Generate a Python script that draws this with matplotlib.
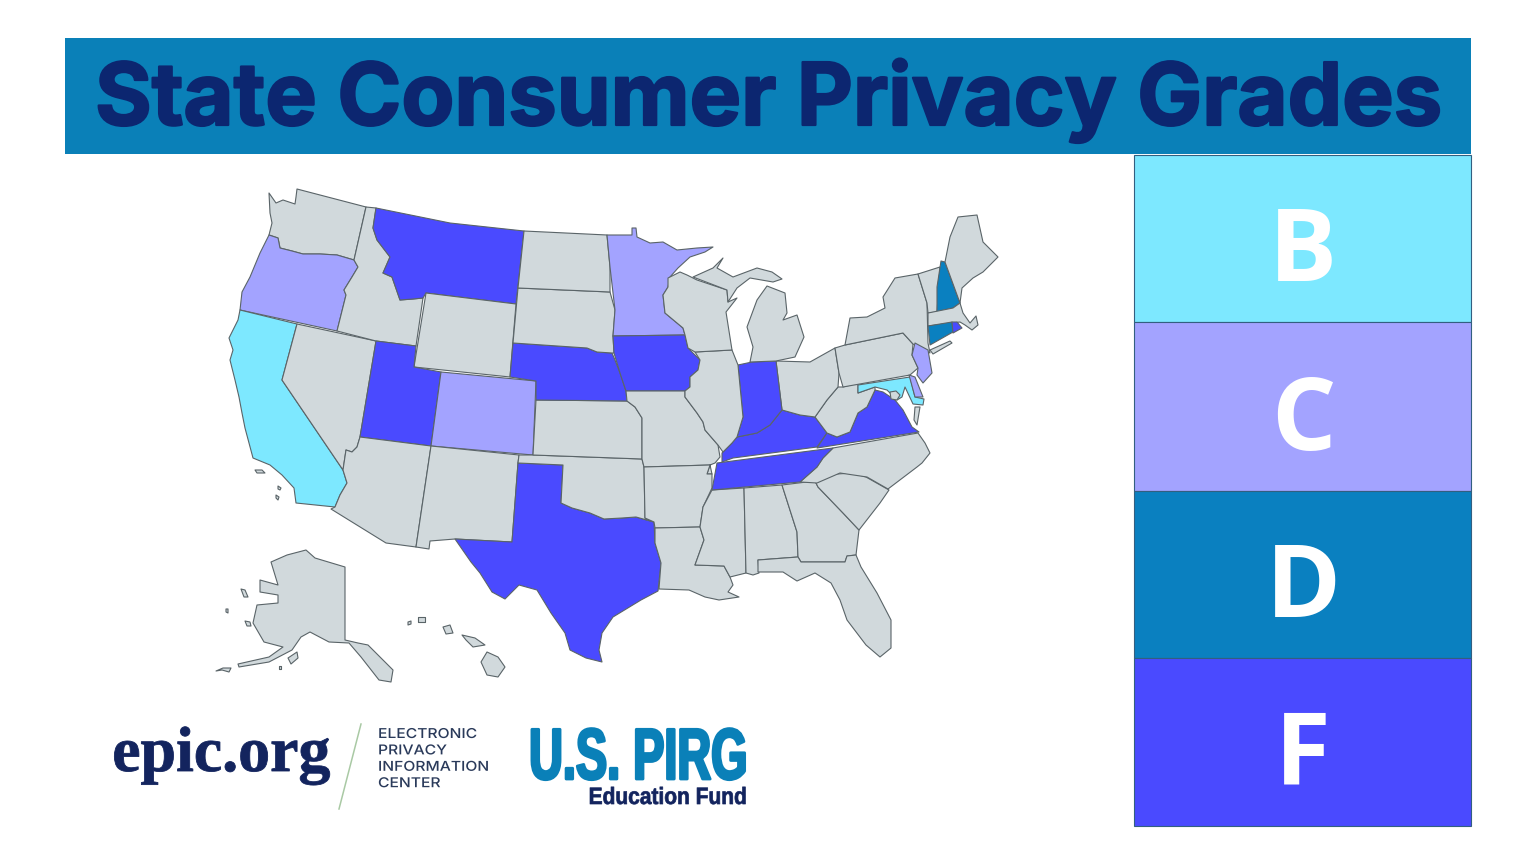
import matplotlib
matplotlib.use("Agg")
import matplotlib.pyplot as plt
from matplotlib.patches import Polygon, Rectangle
from matplotlib.patheffects import AbstractPathEffect
from matplotlib.transforms import Affine2D, Bbox

# Values
TITLE = "State Consumer Privacy Grades"
GRADE_LETTERS = ["B", "C", "D", "F"]
GRADE_COLORS = ["#7de8ff", "#a3a3ff", "#0a80c0", "#4a4aff"]
NO_GRADE_COLOR = "#d1d9dc"
STATE_GRADES = {
    "CA": "B", "MD": "B",
    "OR": "C", "MN": "C", "CO": "C", "NJ": "C", "DE": "C",
    "NH": "D", "CT": "D",
    "MT": "F", "UT": "F", "NE": "F", "IA": "F", "IN": "F", "KY": "F",
    "TN": "F", "VA": "F", "TX": "F", "RI": "F",
}
LOGO_TAGLINE = ["ELECTRONIC", "PRIVACY", "INFORMATION", "CENTER"]

# No map data is installed, so the outlines are hand-traced from the reference,
# in the reference's pixel coordinates (the axes below use that same scale).
SHAPES = {
 "WA": [(269,193),(270,213),(272,223),(269,235),(278,238),(280,248),(292,251),(303,254),(320,254),(337,255),(354,260),(366,207),(297,189),(296,197),(295,204),(283,200),(276,203)],
 "OR": [(269,235),(278,238),(280,248),(292,251),(303,254),(320,254),(337,255),(354,260),(358,267),(352,277),(344,290),(346,295),(337,331),(240,310),(242,292),(250,277),(260,253)],
 "CA": [(240,310),(297,324),(282,380),(343,470),(347,483),(340,495),(335,507),(296,503),(294,488),(282,475),(270,465),(253,458),(245,428),(242,413),(239,397),(235,380),(230,360),(233,350),(229,338),(238,320)],
 "isle_ca1": [(255,470),(262,470),(265,473),(257,473)],
 "isle_ca2": [(278,486),(281,488),(280,490),(278,489)],
 "isle_ca3": [(276,495),(279,497),(278,500),(276,498)],
 "NV": [(297,324),(376,341),(360,437),(357,447),(352,452),(346,450),(343,470),(282,380)],
 "ID": [(366,207),(376,208),(373,228),(377,240),(390,257),(383,273),(392,277),(400,300),(413,299),(423,298),(416,346),(376,341),(337,331),(346,295),(344,290),(352,277),(358,267),(354,260)],
 "MT": [(376,208),(450,223),(524,231),(516,304),(426,293),(423,298),(413,299),(400,300),(392,277),(383,273),(390,257),(377,240),(373,228)],
 "WY": [(426,293),(516,304),(510,377),(414,367)],
 "UT": [(376,341),(416,346),(414,367),(441,372),(431,446),(360,437)],
 "CO": [(441,372),(536,381),(533,455),(431,446)],
 "AZ": [(360,437),(431,446),(416,547),(386,543),(331,509),(335,507),(340,495),(347,483),(343,470),(346,450),(352,452),(357,447)],
 "NM": [(431,446),(519,455),(518,463),(512,542),(455,539),(430,541),(429,549),(416,547)],
 "TX": [(518,463),(563,465),(561,503),(572,508),(590,513),(604,519),(622,518),(636,517),(654,522),(655,543),(661,563),(658,591),(641,600),(613,617),(602,633),(599,650),(602,662),(586,658),(570,650),(565,633),(551,613),(537,590),(519,585),(505,599),(492,592),(480,573),(471,562),(455,539),(512,542)],
 "OK": [(519,455),(533,455),(642,459),(644,467),(645,518),(654,522),(636,517),(622,518),(604,519),(590,513),(572,508),(561,503),(563,465),(518,463)],
 "KS": [(536,400),(627,401),(635,407),(642,418),(642,459),(533,455)],
 "NE": [(513,343),(587,348),(597,352),(612,353),(615,360),(620,373),(626,391),(627,401),(536,400),(536,381),(510,377)],
 "SD": [(518,288),(610,292),(615,310),(613,336),(614,353),(612,353),(597,352),(587,348),(513,343)],
 "ND": [(524,231),(607,235),(610,267),(610,292),(518,288)],
 "MN": [(607,235),(632,235),(632,228),(636,228),(637,237),(650,243),(663,242),(677,250),(697,248),(713,247),(705,252),(690,257),(678,268),(670,277),(668,287),(663,295),(665,313),(683,328),(685,335),(613,336),(615,310),(610,267)],
 "IA": [(613,336),(685,335),(688,348),(700,360),(698,370),(690,377),(690,387),(685,391),(626,391),(620,373),(614,353)],
 "MO": [(626,391),(685,391),(685,397),(697,413),(703,422),(705,430),(718,445),(720,457),(715,463),(710,465),(712,474),(707,474),(710,465),(644,467),(642,459),(642,418),(635,407),(627,401)],
 "AR": [(644,467),(710,465),(707,474),(712,474),(712,488),(703,507),(700,527),(655,528),(654,522),(645,518)],
 "LA": [(655,528),(700,527),(704,540),(695,565),(724,566),(730,577),(733,585),(728,592),(739,597),(719,600),(705,597),(689,590),(659,589),(661,563),(655,543)],
 "MS": [(712,490),(744,488),(746,573),(730,577),(724,566),(695,565),(704,540),(700,527),(703,507)],
 "AL": [(744,488),(782,485),(797,532),(798,557),(758,560),(759,573),(753,575),(746,573)],
 "GA": [(782,485),(815,481),(818,487),(843,513),(859,530),(856,555),(847,556),(845,562),(801,562),(798,557),(797,532)],
 "FL": [(758,560),(798,557),(801,562),(845,562),(847,556),(856,555),(861,567),(877,593),(891,620),(891,648),(880,657),(866,645),(847,620),(840,600),(831,583),(815,573),(797,581),(783,572),(758,572)],
 "SC": [(815,481),(822,475),(852,473),(866,477),(889,490),(880,503),(859,530),(843,513),(818,487)],
 "NC": [(800,482),(817,467),(823,458),(833,448),(918,433),(925,443),(930,453),(922,463),(917,467),(888,489),(867,477),(840,473),(817,483)],
 "TN": [(717,463),(833,448),(823,458),(817,467),(800,482),(712,490)],
 "KY": [(722,453),(732,443),(737,437),(757,433),(770,425),(782,410),(800,415),(815,417),(827,433),(817,447),(733,458),(722,462)],
 "VA": [(817,448),(827,433),(837,437),(850,432),(858,413),(867,407),(875,390),(883,392),(895,400),(903,410),(912,427),(919,432)],
 "WV": [(815,417),(827,400),(838,387),(843,387),(858,383),(858,393),(875,387),(875,390),(867,407),(858,413),(850,432),(837,437),(827,433)],
 "OH": [(776,361),(810,362),(835,348),(839,373),(838,387),(827,400),(815,417),(800,415),(782,410)],
 "IN": [(738,365),(752,362),(776,361),(782,410),(770,425),(757,433),(737,437),(743,417)],
 "IL": [(695,352),(732,350),(738,365),(743,417),(737,437),(732,443),(723,452),(718,445),(705,430),(703,422),(697,413),(685,397),(685,391),(690,387),(690,377),(698,370),(700,360)],
 "WI": [(668,278),(680,272),(687,275),(697,280),(727,290),(728,302),(737,298),(726,312),(732,350),(695,352),(688,348),(685,335),(683,328),(665,313),(663,295),(668,287)],
 "MI_upper": [(693,277),(713,268),(723,258),(717,268),(733,277),(757,268),(772,272),(782,279),(773,282),(750,278),(737,288),(728,302),(727,290)],
 "MI_lower": [(750,362),(753,347),(747,327),(757,300),(767,286),(785,293),(787,313),(783,320),(797,315),(804,337),(795,357),(776,361)],
 "PA": [(845,345),(903,333),(913,344),(912,355),(918,368),(910,375),(843,387),(839,373),(835,348)],
 "NY": [(845,345),(850,318),(867,317),(885,308),(883,297),(895,278),(918,274),(927,303),(928,343),(930,353),(913,344),(903,333)],
 "NY_li": [(930,350),(950,341),(952,343),(933,354)],
 "NJ": [(915,343),(928,350),(932,373),(923,383),(917,375),(918,368),(912,355)],
 "MD": [(858,385),(910,377),(915,397),(924,399),(923,405),(913,404),(905,387),(902,397),(897,400),(887,390),(875,387),(858,393)],
 "DE": [(909,375),(915,377),(923,397),(915,397)],
 "isle_bay": [(890,392),(896,391),(900,395),(897,400),(891,399)],
 "isle_vashore": [(915,407),(920,407),(917,425),(914,420)],
 "VT": [(918,274),(940,267),(937,312),(928,313),(927,303)],
 "NH": [(941,261),(945,262),(960,303),(953,308),(937,312),(937,287)],
 "ME": [(945,262),(950,237),(958,217),(977,215),(983,242),(998,257),(983,272),(973,278),(962,288),(960,303)],
 "MA": [(928,313),(953,308),(960,303),(963,313),(970,323),(976,316),(978,325),(972,330),(965,325),(960,322),(928,326)],
 "CT": [(928,326),(952,322),(953,332),(930,345)],
 "RI": [(952,322),(957,322),(962,328),(953,333)],
 "AK": [(271,562),(287,555),(306,550),(315,558),(345,567),(345,640),(358,643),(368,645),(393,670),(391,682),(379,680),(361,657),(349,643),(329,642),(310,632),(301,637),(292,650),(269,662),(239,667),(238,664),(269,657),(283,647),(264,642),(253,623),(257,605),(278,603),(278,595),(260,592),(260,580),(278,585)],
 "AK_kodiak": [(288,658),(297,652),(298,658),(291,664)],
 "AK_aleut": [(216,671),(223,668),(231,668),(229,672),(222,670)],
 "AK_i1": [(241,589),(245,590),(248,597),(244,597)],
 "AK_i2": [(226,609),(228,609),(228,613),(226,612)],
 "AK_i3": [(245,621),(250,622),(251,626),(247,626)],
 "AK_i4": [(279,666),(281,666),(281,669),(279,669)],
 "HI_big": [(487,652),(498,657),(505,667),(498,677),(487,675),(481,662)],
 "HI_maui": [(462,635),(475,638),(485,645),(473,647),(466,640)],
 "HI_oahu": [(443,627),(450,625),(453,633),(446,634)],
 "HI_kauai": [(418,617),(425,617),(425,622),(418,622)],
 "HI_niihau": [(408,622),(411,621),(411,624),(408,625)],
}


class GlyphShape(AbstractPathEffect):
    """Widen/narrow real text around x0 and thicken it, as no condensed or black face exists."""

    def __init__(self, x0, sx=1.0, stroke=0.0):
        super().__init__()
        self.x0, self.sx, self.stroke = x0, sx, stroke

    def draw_path(self, renderer, gc, tpath, affine, rgbFace=None):
        aff = affine + Affine2D().translate(-self.x0, 0).scale(self.sx, 1).translate(self.x0, 0)
        gc0 = renderer.new_gc()
        gc0.copy_properties(gc)
        if self.stroke:
            gc0.set_foreground(rgbFace)
            gc0.set_linewidth(self.stroke)
        renderer.draw_path(gc0, tpath, aff, rgbFace)
        gc0.restore()


def shaped_text(ax, x, y, s, sx=1.0, stroke=0.0, trim_bottom=0.0, **kw):
    t = ax.text(x, y, s, va="baseline", **kw)
    t.set_path_effects([GlyphShape(x, sx, stroke)])
    plain = t.get_window_extent

    def extent(renderer=None, dpi=None):
        bb = plain(renderer, dpi)
        return Bbox.from_extents(x + (bb.x0 - x) * sx, bb.y0 + trim_bottom,
                                 x + (bb.x1 - x) * sx, bb.y1)

    t.get_window_extent = extent
    return t


fig = plt.figure(figsize=(15.36, 8.64), dpi=100, facecolor="white")
ax = fig.add_axes([0, 0, 1, 1])
ax.set_xlim(0, 1536)
ax.set_ylim(864, 0)
ax.axis("off")

# Header
ax.add_patch(Rectangle((65, 38), 1406, 116, fc="#0a80b8", ec="none"))
shaped_text(ax, 768.5, 125, TITLE, stroke=1.6, ha="center", fontsize=62.3,
            fontweight="bold", color="#0c2670", family="Inter")

# Grade key
key_edges = [155, 322, 491, 658, 826]
key_baselines = [281, 450, 617, 784]
for i, (letter, color) in enumerate(zip(GRADE_LETTERS, GRADE_COLORS)):
    top, bottom = key_edges[i], key_edges[i + 1]
    ax.add_patch(Rectangle((1134, top), 337, bottom - top, fc=color,
                           ec="#335f80", lw=0.8))
    ax.text(1303, key_baselines[i], letter, ha="center", va="baseline",
            fontsize=73, fontweight="bold", color="white", family="Open Sans")

# Map
code_to_color = dict(zip(GRADE_LETTERS, GRADE_COLORS))
for name, pts in SHAPES.items():
    grade = STATE_GRADES.get(name.split("_")[0])
    ax.add_patch(Polygon(pts, closed=True, ec="#5a6468", lw=0.8, joinstyle="round",
                         fc=code_to_color.get(grade, NO_GRADE_COLOR)))

# Logos
shaped_text(ax, 221, 771, "epic.org", stroke=0.6, ha="center", fontsize=46,
            fontweight="bold", color="#13245e", family="Liberation Serif")
ax.plot([361, 339], [724, 809], color="#a9c9a4", lw=1.1)
for i, word in enumerate(LOGO_TAGLINE):
    shaped_text(ax, 378, 738 + 16.4 * i, word, sx=1.15, ha="left", fontsize=9.8,
                fontweight="medium", color="#2a3a5a", family="Inter")
shaped_text(ax, 638.5, 779, "U.S. PIRG", sx=0.648, stroke=2.0, trim_bottom=17, ha="center",
            fontsize=52, fontweight="bold", color="#0a80b8", family="Liberation Sans")
shaped_text(ax, 668, 804, "Education Fund", sx=0.887, stroke=0.5, ha="center", fontsize=17,
            fontweight="bold", color="#13245e", family="Liberation Sans")

fig.savefig("out.png", dpi=100, facecolor="white")
